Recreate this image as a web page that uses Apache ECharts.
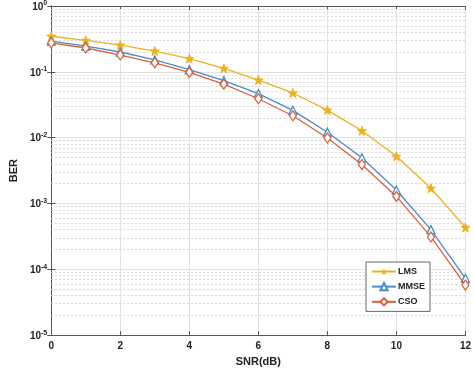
<!DOCTYPE html>
<html><head><meta charset="utf-8">
<script src="https://cdn.jsdelivr.net/npm/echarts@6/dist/echarts.min.js"></script>
<style>html,body{margin:0;padding:0;background:#fff}#c{width:474px;height:372px}</style>
</head><body><div id="c"></div>
<script>
const snr = [0,1,2,3,4,5,6,7,8,9,10,11,12];
const lms  = [0.347,0.300,0.255,0.207,0.159,0.113,0.075,0.0477,0.0262,0.0127,0.0052,0.0017,0.00043];
const mmse = [0.292,0.246,0.200,0.152,0.108,0.0736,0.0466,0.026,0.0121,0.00495,0.0016,0.0004,0.000073];
const cso  = [0.276,0.230,0.180,0.137,0.098,0.065,0.039,0.0215,0.0099,0.0039,0.00128,0.00031,0.0000575];
const xTicks = [0,2,4,6,8,10,12];
const yDecades = [-5,-4,-3,-2,-1,0];
const seriesNames = ['LMS','MMSE','CSO'];

const minorLines = [];
for (const d of yDecades.slice(0,-1)) for (let k=2;k<=9;k++) minorLines.push({coords:[[0,k*Math.pow(10,d)],[12,k*Math.pow(10,d)]]});
const star = 'path://M50,0 L61.8,35.1 L98.9,35.1 L69,57 L80.3,92.7 L50,70.8 L19.7,92.7 L31,57 L1.1,35.1 L38.2,35.1 Z';
const colors = ['#EDB120','#4A8CC8','#D9623A'];
const pair = arr => snr.map((x,i)=>[x,arr[i]]);
const font = 'Arial, Liberation Sans';

const chart = echarts.init(document.getElementById('c'), null, {renderer:'canvas'});
const yFmt = v => { const e = Math.round(Math.log10(v)); return '{b|10}{s|' + e + '}'; };
chart.setOption({
  animation:false,
  backgroundColor:'#fff',
  grid:{left:37,right:6,top:6,bottom:32},
  legend:{
    orient:'vertical', left:366, top:262,
    data:seriesNames,
    itemWidth:24, itemHeight:9, itemGap:6,
    backgroundColor:'#fff', borderColor:'#666', borderWidth:1,
    padding:[5,5,5,5],
    textStyle:{fontFamily:font, fontSize:9, fontWeight:'bold', color:'#222', padding:[0,0,0,-3]}
  },
  xAxis:[{
    type:'value', min:0, max:12, interval:2,
    name:'SNR(dB)', nameLocation:'middle', nameGap:20,
    nameTextStyle:{fontFamily:font, fontSize:11, fontWeight:'bold', color:'#222'},
    axisLine:{lineStyle:{color:'#555', width:1}},
    axisTick:{inside:true, length:4, lineStyle:{color:'#555'}},
    axisLabel:{fontFamily:font, fontSize:10, fontWeight:'bold', color:'#222', margin:6},
    splitLine:{show:true, lineStyle:{color:'#e2e2e2', width:1}}
  },{
    type:'value', min:0, max:12, interval:2, position:'top',
    axisLine:{show:true, lineStyle:{color:'#555'}},
    axisTick:{inside:true, length:4, lineStyle:{color:'#555'}},
    axisLabel:{show:false}, splitLine:{show:false}
  }],
  yAxis:[{
    type:'log', logBase:10, min:1e-5, max:1,
    name:'BER', nameLocation:'middle', nameGap:22, nameRotate:90,
    nameTextStyle:{fontFamily:font, fontSize:11, fontWeight:'bold', color:'#222'},
    axisLine:{show:true, lineStyle:{color:'#555'}},
    axisTick:{show:true, inside:true, length:4, lineStyle:{color:'#555'}},
    axisLabel:{formatter:yFmt, margin:4,
      rich:{b:{fontFamily:font, fontSize:10, fontWeight:'bold', color:'#222', verticalAlign:'bottom'},
            s:{fontFamily:font, fontSize:7, fontWeight:'bold', color:'#222', verticalAlign:'top', padding:[0,0,5,0]}}},
    splitLine:{show:true, lineStyle:{color:'#e2e2e2', width:1}}
  },{
    type:'log', logBase:10, min:1e-5, max:1, position:'right',
    axisLine:{show:true, lineStyle:{color:'#555'}},
    axisTick:{show:true, inside:true, length:4, lineStyle:{color:'#555'}},
    axisLabel:{show:false}, splitLine:{show:false}
  }],
  series:[
    {type:'lines', coordinateSystem:'cartesian2d', silent:true, z:1,
     lineStyle:{color:'#d8d8d8', type:[2,2], width:1, opacity:1}, data:minorLines},
    {name:'LMS', type:'line', data:pair(lms), symbol:star, symbolSize:9,
     lineStyle:{width:1.3, color:colors[0]}, itemStyle:{color:colors[0], borderColor:colors[0]}, z:3},
    {name:'MMSE', type:'line', data:pair(mmse), symbol:'triangle', symbolSize:8,
     lineStyle:{width:1.3, color:colors[1]}, itemStyle:{color:'#fff', borderColor:colors[1], borderWidth:1.3}, z:4},
    {name:'CSO', type:'line', data:pair(cso), symbol:'diamond', symbolSize:[7,10],
     lineStyle:{width:1.3, color:colors[2]}, itemStyle:{color:'#fff', borderColor:colors[2], borderWidth:1.3}, z:5}
  ]
});
</script></body></html>
